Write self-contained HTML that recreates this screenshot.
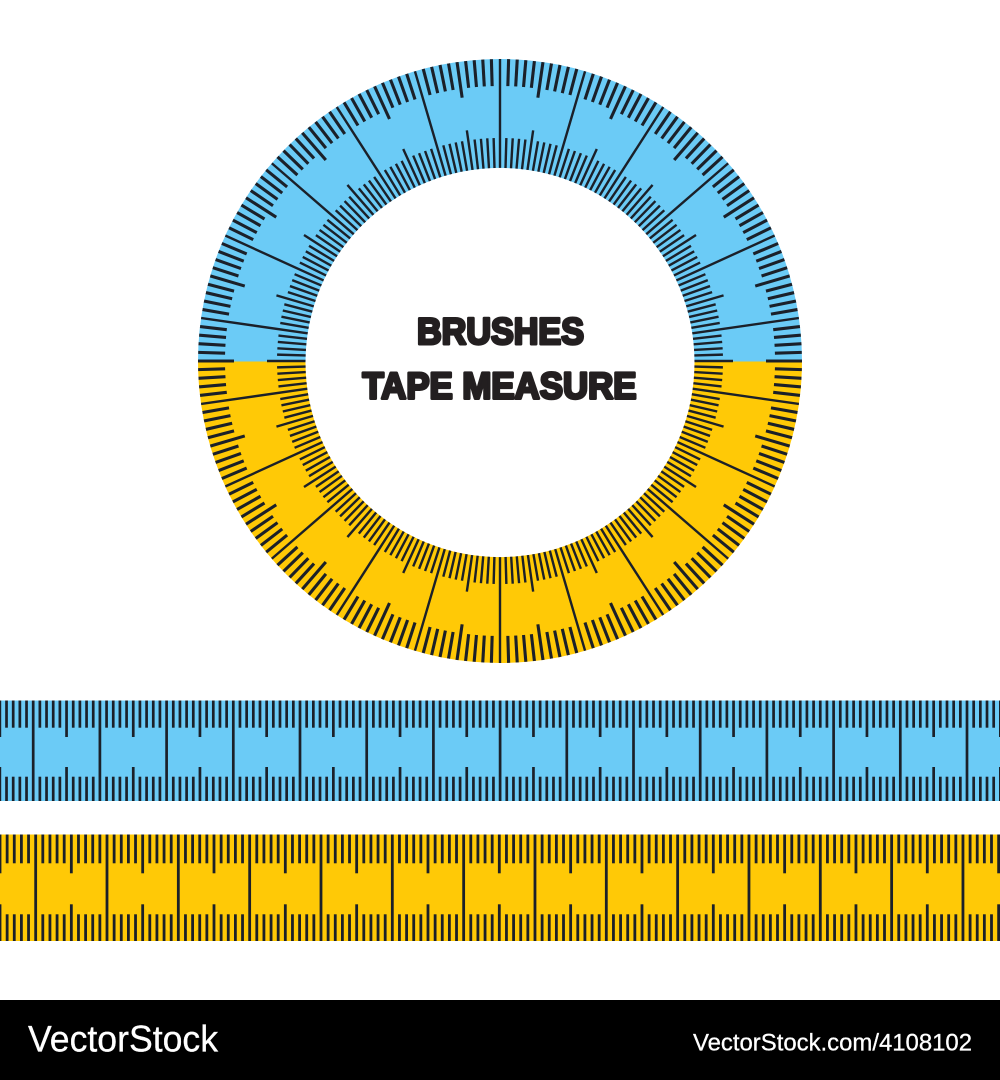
<!DOCTYPE html>
<html><head><meta charset="utf-8"><style>
html,body{margin:0;padding:0;background:#fff;width:1000px;height:1080px;overflow:hidden}
svg{display:block}
</style></head><body>
<svg id="s" xmlns="http://www.w3.org/2000/svg" width="1000" height="1080" viewBox="0 0 1000 1080">
<rect width="1000" height="1080" fill="#fff"/>
<defs><clipPath id="c"><path clip-rule="evenodd" d="M198 361a302 302 0 1 1 604 0a302 302 0 1 1 -604 0zM305.500 362.500a194.500 194.500 0 1 0 389 0a194.500 194.500 0 1 0 -389 0z"/></clipPath></defs>
<g clip-path="url(#c)">
<rect x="190" y="50" width="620" height="311.500" fill="#6bcbf6"/>
<rect x="190" y="361.500" width="620" height="310" fill="#ffc906"/>
<g id="ring" stroke="#1b2029"></g>
</g>
<rect x="0" y="700.500" width="1000" height="100.500" fill="#6bcbf6"/>
<g id="st1" stroke="#1b2029" stroke-width="2.700"></g>
<rect x="0" y="834.500" width="1000" height="106.500" fill="#ffc906"/>
<g id="st2" stroke="#1b2029" stroke-width="2.800"></g>
<g font-family="'Liberation Sans',sans-serif" font-weight="700" font-size="37" fill="#231f20" stroke="#231f20" stroke-width="3" stroke-linejoin="round">
<text x="417" y="344.200" textLength="167" lengthAdjust="spacingAndGlyphs">BRUSHES</text>
<text x="362.500" y="398.500" textLength="274" lengthAdjust="spacingAndGlyphs">TAPE MEASURE</text>
</g>
<rect x="0" y="1000" width="1000" height="80" fill="#000"/>
<g font-family="'Liberation Sans',sans-serif" fill="#fff" stroke="#fff" stroke-width="0.300">
<text x="28" y="1051.500" font-size="37" textLength="190" lengthAdjust="spacingAndGlyphs">VectorStock</text>
<text x="693" y="1050.500" font-size="24" textLength="279" lengthAdjust="spacingAndGlyphs">VectorStock.com/4108102</text>
</g>
<script>
(function(){
var NS="http://www.w3.org/2000/svg";
function ln(g,a,b,c,d,w){var l=document.createElementNS(NS,"line");l.setAttribute("x1",a.toFixed(2));l.setAttribute("y1",b.toFixed(2));l.setAttribute("x2",c.toFixed(2));l.setAttribute("y2",d.toFixed(2));if(w)l.setAttribute("stroke-width",w);g.appendChild(l);}
var cx=500,cy=361,g=document.getElementById("ring"),step=Math.PI/110;
for(var i=0;i<220;i++){
  var t=i*step,s=Math.sin(t),c=-Math.cos(t),k=((i%10)+10)%10;
  var pts;
  if(k===0){pts=[[190,306,2.400]];}
  else if(k===5){pts=[[266,306,3.100],[190,233,2.400]];}
  else{pts=[[275,306,3.100],[190,223,2.400]];}
  pts.forEach(function(p){ln(g,cx+s*p[0],cy+c*p[0],cx+s*p[1],cy+c*p[1],p[2]);});
}
function strip(id,x0,st,y0,y1,a1,a2,b1,b2){
  var g=document.getElementById(id);
  for(var n=-20;n<170;n++){
    var x=x0+n*st;
    if(x<-3||x>1003)continue;
    var k=((n%10)+10)%10;
    if(k===0)ln(g,x,y0,x,y1);
    else if(k===5){ln(g,x,y0,x,a2);ln(g,x,b2,x,y1);}
    else{ln(g,x,y0,x,a1);ln(g,x,b1,x,y1);}
  }
}
strip("st1",33.200,6.670,700.500,801,727.700,737,776.700,767);
strip("st2",35.670,7.133,834.500,941,863.300,873.300,914.300,904.300);
})();
</script>
</svg>
</body></html>
